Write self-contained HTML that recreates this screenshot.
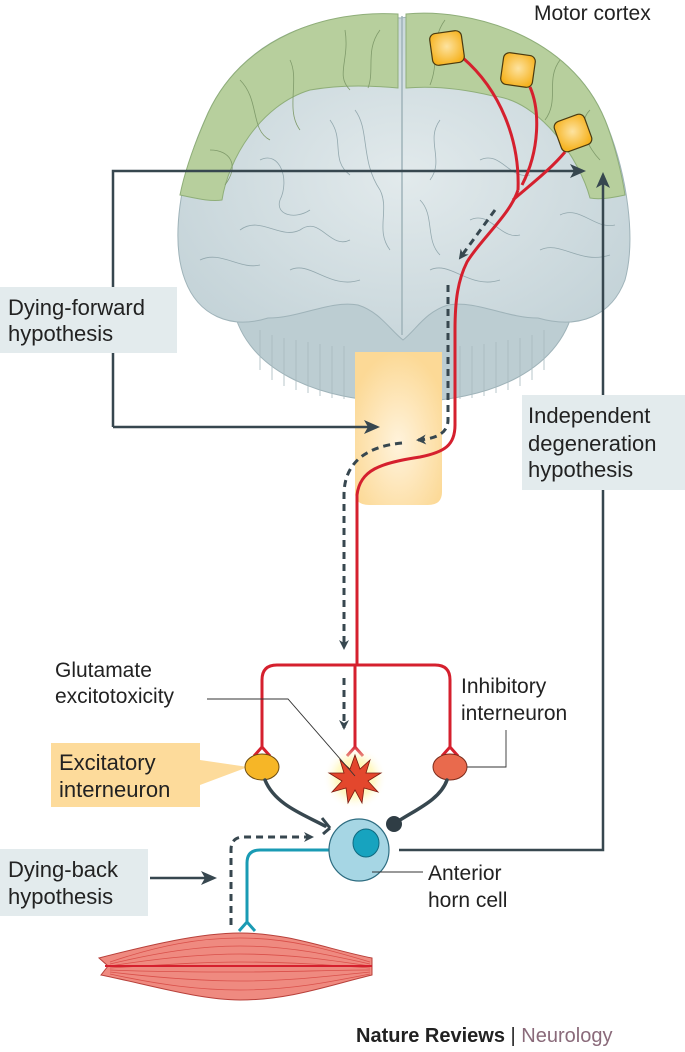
<!DOCTYPE html>
<html><head><meta charset="utf-8"><style>
html,body{margin:0;padding:0;background:#fff}
svg{display:block}
text{font-family:"Liberation Sans",sans-serif;fill:#222}
</style></head><body>
<svg width="685" height="1052" viewBox="0 0 685 1052" xmlns="http://www.w3.org/2000/svg">
<defs>
<radialGradient id="sq" cx="0.5" cy="0.45" r="0.6"><stop offset="0" stop-color="#fde3a0"/><stop offset="1" stop-color="#f6b21e"/></radialGradient>
<radialGradient id="glow" cx="0.5" cy="0.5" r="0.5"><stop offset="0" stop-color="#fff27a"/><stop offset="0.6" stop-color="#fff6b0" stop-opacity="0.7"/><stop offset="1" stop-color="#fff" stop-opacity="0"/></radialGradient>
<radialGradient id="bs" cx="0.5" cy="0.6" r="0.6"><stop offset="0" stop-color="#fff3dc"/><stop offset="1" stop-color="#fcd996"/></radialGradient>
<radialGradient id="gr" cx="0.5" cy="0.5" r="0.6"><stop offset="0" stop-color="#e2eaec"/><stop offset="1" stop-color="#c4d3d8"/></radialGradient>
<marker id="ah" markerWidth="10" markerHeight="10" refX="8" refY="5" orient="auto" markerUnits="userSpaceOnUse"><path d="M0,0 L10,5 L0,10 L3,5 Z" fill="#37474f"/></marker>
<marker id="ah2" markerWidth="16" markerHeight="14" refX="13" refY="7" orient="auto" markerUnits="userSpaceOnUse"><path d="M0,0 L16,7 L0,14 L4,7 Z" fill="#37474f"/></marker>
</defs>

<!-- cerebellum -->
<path d="M232,300 C240,370 320,402 403,402 C490,402 565,370 575,300 Z" fill="#bccdd2" stroke="#9fb3b9" stroke-width="1"/>
<g stroke="#a7babf" stroke-width="0.8">
<path d="M260,330 V370 M272,335 V380 M284,338 V386 M296,340 V390 M308,342 V393 M320,344 V396 M332,346 V398 M344,346 V399 M460,346 V399 M472,346 V398 M484,344 V396 M496,342 V393 M508,340 V390 M520,338 V386 M532,335 V380 M544,330 V370"/>
</g>
<!-- brainstem -->
<path d="M355,352 H442 V492 Q442,505 428,505 H369 Q355,505 355,492 Z" fill="url(#bs)"/>
<!-- cerebrum -->
<path d="M400,18 C330,8 240,35 205,120 C180,175 170,240 185,280 C198,315 230,330 268,318 C300,318 330,300 358,305 C380,312 390,330 403,340 C416,330 425,312 448,305 C476,300 506,318 538,318 C580,330 612,315 625,280 C636,240 628,175 605,120 C570,35 470,8 400,18 Z" fill="url(#gr)" stroke="#9fb3b9" stroke-width="1"/>
<!-- green cortex -->
<path d="M398,14 C330,10 240,35 205,120 C192,150 184,175 180,195 C195,198 210,202 222,200 C228,160 260,105 310,90 C345,84 375,86 398,88 Z" fill="#b7cf9d" stroke="#8fae79" stroke-width="1"/>
<path d="M406,14 C470,8 570,35 605,120 C615,145 622,175 625,195 C612,198 600,200 590,198 C580,160 540,100 493,96 C460,88 430,86 406,88 Z" fill="#b7cf9d" stroke="#8fae79" stroke-width="1"/>
<line x1="402" y1="16" x2="402" y2="335" stroke="#9fb3b9" stroke-width="1.5"/>
<!-- gyri -->
<g fill="none" stroke="#7f9a6a" stroke-width="0.8">
<path d="M240,80 C260,100 250,130 270,140 M290,60 C300,80 285,110 300,130 M345,30 C350,60 335,75 350,90 M210,150 C230,150 240,165 225,185 M380,30 C365,50 375,70 368,88"/>
<path d="M445,20 C430,40 440,60 430,85 M560,60 C545,80 560,100 545,120 M590,110 C575,125 590,150 600,160"/>
</g>
<g fill="none" stroke="#93a8ae" stroke-width="0.8">
<path d="M240,230 C260,215 280,240 300,230 C320,215 330,250 350,240 M260,160 C280,150 290,180 280,200 C275,215 295,220 310,210 M330,120 C345,140 330,160 350,175 M200,260 C220,250 240,270 260,265 M290,270 C310,260 330,290 360,280 M355,110 C370,130 360,160 380,190 C390,210 375,230 390,250"/>
<path d="M440,120 C425,140 445,160 430,180 M470,220 C490,210 500,240 520,235 M540,250 C560,240 580,265 610,255 M480,160 C500,150 510,180 530,175 M560,215 C580,205 595,230 615,225 M430,270 C450,260 470,290 500,280 M420,200 C435,215 425,240 440,255"/>
</g>

<!-- arrows -->
<g fill="none" stroke="#37474f" stroke-width="2.5">
<path d="M113,427 V171 H583" marker-end="url(#ah2)"/>
<path d="M113,427 H377" marker-end="url(#ah2)"/>
<path d="M399,850 H603 V175" marker-end="url(#ah2)"/>
<path d="M150,878 H214" marker-end="url(#ah2)"/>
</g>

<!-- red motor neuron -->
<g fill="none" stroke="#d5202e" stroke-width="3">
<path d="M463,58 C500,90 520,140 518,190"/>
<path d="M530,87 C540,110 540,150 522,185"/>
<path d="M565,152 C550,170 530,185 513,200"/>
<path d="M518,190 C510,215 480,240 467,262 C458,280 455,300 455,330 V425 C455,445 445,452 420,457 C380,463 360,470 357,495 V665"/>
<path d="M262,747 V680 Q262,665 277,665 H435 Q450,665 450,680 V747"/>
<path d="M355,665 V747"/>
</g>
<g fill="none" stroke="#d5202e" stroke-width="3" stroke-linejoin="miter">
<path d="M254,756 L262,747 L270,756 M347,756 L355,747 L363,756 M442,756 L450,747 L458,756"/>
</g>
<g stroke="#4a3a10" stroke-width="1.2" fill="url(#sq)">
<rect x="431" y="32" width="32" height="32" rx="6" transform="rotate(-8 447 48)"/>
<rect x="502" y="54" width="32" height="32" rx="6" transform="rotate(8 518 70)"/>
<rect x="557" y="117" width="32" height="32" rx="6" transform="rotate(-20 573 133)"/>
</g>

<!-- dashed -->
<g fill="none" stroke="#37474f" stroke-width="3" stroke-dasharray="7,5">
<path d="M495,210 L460,258" marker-end="url(#ah)"/>
<path d="M448,285 V420 Q448,438 418,440" marker-end="url(#ah)"/>
<path d="M402,443 C370,446 344,460 344,495 V648" marker-end="url(#ah)"/>
<path d="M344,678 V728" marker-end="url(#ah)"/>
<path d="M231,925 V850 Q231,837 244,837 H312" marker-end="url(#ah)"/>
</g>

<!-- excitatory box -->
<path d="M51,743 H200 V760 L248,767 L200,785 V807 H51 Z" fill="#fddb9b"/>
<!-- neurons -->
<ellipse cx="262" cy="767" rx="17" ry="13" fill="#f6b627" stroke="#6a4a10" stroke-width="1"/>
<ellipse cx="450" cy="767" rx="17" ry="13" fill="#e96a4d" stroke="#7a2a1a" stroke-width="1"/>
<circle cx="355" cy="778" r="32" fill="url(#glow)"/>
<polygon points="355,755 360,769 370,760 366,773 381,773 368,781 378,792 364,788 362,803 355,790 348,803 346,788 332,792 342,781 329,773 344,773 340,760 350,769" fill="#e3472d" stroke="#7a1a10" stroke-width="0.8"/>
<g fill="none" stroke="#37474f" stroke-width="3.5" stroke-linecap="round">
<path d="M265,780 C275,805 305,815 325,826"/>
<path d="M447,780 C440,800 415,810 397,822"/>
</g>
<path d="M322,818 L330,828 M323,834 L330,828" stroke="#37474f" stroke-width="3"/>
<circle cx="394" cy="824" r="8" fill="#2f3d45"/>
<!-- horn cell -->
<path d="M330,850 H260 Q247,850 247,863 V922" fill="none" stroke="#1a9bb4" stroke-width="3"/>
<path d="M239,931 L247,922 L255,931" fill="none" stroke="#1a9bb4" stroke-width="3"/>
<ellipse cx="359" cy="850" rx="30" ry="31" fill="#a6d6e4" stroke="#2d6c80" stroke-width="1.2"/>
<ellipse cx="366" cy="843" rx="13" ry="14" fill="#17a3bf" stroke="#0f6a80" stroke-width="1"/>

<!-- muscle -->
<path d="M99,958 L108,966 L101,975 C150,985 200,1000 240,1000 C290,1000 330,985 372,975 L372,958 C330,950 290,933 240,933 C200,933 150,945 99,958 Z" fill="#ef8a80" stroke="#b8403a" stroke-width="1"/>
<g fill="none" stroke="#d9504a" stroke-width="0.8">
<path d="M110,962 C160,945 200,938 240,938 C290,938 330,950 370,962"/>
<path d="M110,964 C160,952 200,946 240,946 C290,946 330,955 370,964"/>
<path d="M110,966 C160,958 200,954 240,954 C290,954 330,960 370,966"/>
<path d="M110,968 C160,965 200,962 240,962 C290,962 330,965 370,968"/>
<path d="M110,970 C160,972 200,972 240,972 C290,972 330,970 370,970"/>
<path d="M110,972 C160,978 200,981 240,981 C290,981 330,976 370,972"/>
<path d="M110,974 C160,985 200,990 240,990 C290,990 330,982 370,974"/>
</g>
<path d="M105,966 H372" stroke="#d5202e" stroke-width="2"/>

<!-- leaders -->
<g fill="none" stroke="#333" stroke-width="0.9">
<path d="M207,699 H288 L355,776"/>
<path d="M467,767 H506 V730"/>
<path d="M372,872 H423"/>
</g>

<!-- label boxes -->
<rect x="0" y="287" width="177" height="66" fill="#e3ebed"/>
<rect x="522" y="395" width="163" height="95" fill="#e3ebed"/>
<rect x="0" y="849" width="148" height="67" fill="#e3ebed"/>

<g font-size="21">
<text x="534" y="20">Motor cortex</text>
<text x="8" y="315" font-size="22">Dying-forward</text>
<text x="8" y="341" font-size="22">hypothesis</text>
<text x="528" y="423" font-size="22">Independent</text>
<text x="528" y="451" font-size="22">degeneration</text>
<text x="528" y="477" font-size="22">hypothesis</text>
<text x="55" y="677">Glutamate</text>
<text x="55" y="703">excitotoxicity</text>
<text x="461" y="693">Inhibitory</text>
<text x="461" y="720">interneuron</text>
<text x="59" y="770" font-size="22">Excitatory</text>
<text x="59" y="797" font-size="22">interneuron</text>
<text x="8" y="877" font-size="22">Dying-back</text>
<text x="8" y="904" font-size="22">hypothesis</text>
<text x="428" y="880">Anterior</text>
<text x="428" y="907">horn cell</text>
<text x="356" y="1042" font-weight="bold" font-size="20">Nature Reviews <tspan font-weight="normal" fill="#222">|</tspan> <tspan font-weight="normal" fill="#8a6a7a">Neurology</tspan></text>
</g>
</svg>
</body></html>
